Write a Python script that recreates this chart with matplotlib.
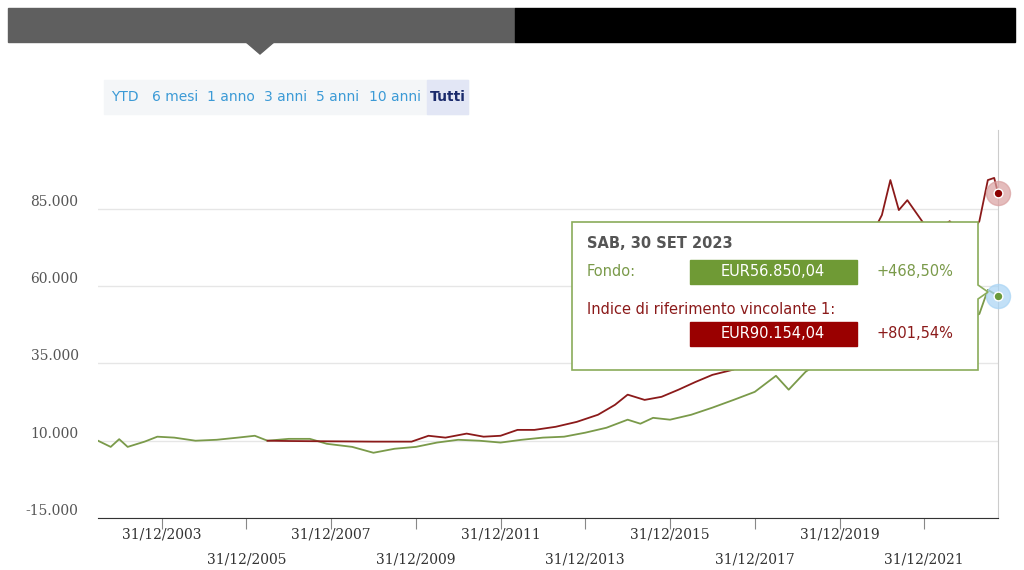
import matplotlib.pyplot as plt
from matplotlib.patches import Rectangle, Polygon

# decimal years and values
fondo_t = [2002.5, 2002.8, 2003.0, 2003.2, 2003.6, 2003.9, 2004.3, 2004.8, 2005.3, 2005.8, 2006.2, 2006.5,
           2007.0, 2007.5, 2007.9, 2008.5, 2009.0, 2009.5, 2010.0, 2010.5, 2011.0, 2011.5, 2012.0, 2012.5,
           2013.0, 2013.5, 2014.0, 2014.5, 2015.0, 2015.3, 2015.6, 2016.0, 2016.5, 2017.0, 2017.5, 2018.0,
           2018.5, 2018.8, 2019.2, 2019.6, 2020.0, 2020.3, 2020.7, 2021.0, 2021.5, 2021.9, 2022.3, 2022.7,
           2023.0, 2023.3, 2023.5, 2023.74]
fondo_v = [10000, 8000, 10500, 8000, 9700, 11300, 11000, 10000, 10300, 11000, 11600, 10000,
           10600, 10600, 9000, 8000, 6100, 7400, 8000, 9400, 10300, 10000, 9400, 10300,
           11000, 11300, 12600, 14200, 16800, 15500, 17400, 16800, 18400, 20700, 23200, 25800,
           31000, 26500, 32300, 36000, 41000, 39400, 45800, 50700, 55500, 60400, 54000, 50700,
           49100, 51000, 58800, 56850]
indice_t = [2006.5, 2007.0, 2008.0, 2009.0, 2009.9, 2010.3, 2010.7, 2011.2, 2011.6, 2012.0, 2012.4, 2012.8,
            2013.3, 2013.8, 2014.3, 2014.7, 2015.0, 2015.4, 2015.8, 2016.2, 2016.6, 2017.0, 2017.5, 2018.0,
            2018.5, 2019.0, 2019.5, 2020.0, 2020.3, 2020.7, 2021.0, 2021.2, 2021.4, 2021.6, 2022.0, 2022.3,
            2022.6, 2023.0, 2023.3, 2023.5, 2023.65, 2023.74]
indice_v = [10000, 9900, 9800, 9700, 9700, 11600, 11000, 12300, 11300, 11600, 13500, 13500,
            14500, 16100, 18400, 21600, 24900, 23200, 24200, 26500, 29000, 31300, 33000, 37800,
            42600, 45800, 55500, 62000, 55500, 75000, 83000, 94300, 84600, 87800, 80000, 78000,
            81000, 75000, 81000, 94300, 95000, 90154]
yticks = [-15000, 10000, 35000, 60000, 85000]
ylabels = ['-15.000', '10.000', '35.000', '60.000', '85.000']
xticks = [2004, 2006, 2008, 2010, 2012, 2014, 2016, 2018, 2020, 2022]
xlabels = ['31/12/%d' % (y - 1) for y in xticks]
buttons = ['YTD', '6 mesi', '1 anno', '3 anni', '5 anni', '10 anni', 'Tutti']

GREEN = '#7a9a4a'
RED = '#8b1a1a'

fig = plt.figure(figsize=(10.24, 5.7), dpi=100)
W, H = 1024, 570
def px(x, y):
    return x / W, 1 - y / H

# header bars
fig.patches.append(Rectangle(px(8, 42), 507 / W, 34 / H, transform=fig.transFigure, color='#5f5f5f'))
fig.patches.append(Rectangle(px(515, 42), 500 / W, 34 / H, transform=fig.transFigure, color='black'))
fig.patches.append(Polygon([px(246, 42), px(274, 42), px(260, 54)], transform=fig.transFigure, color='#5f5f5f'))

# range buttons
fig.patches.append(Rectangle(px(104, 114), 364 / W, 34 / H, transform=fig.transFigure, color='#f4f6f8'))
fig.patches.append(Rectangle(px(427, 114), 41 / W, 34 / H, transform=fig.transFigure, color='#e2e6f5'))
bx = [125, 175, 231, 286, 338, 395, 448]
for b, x in zip(buttons, bx):
    fig.text(*px(x, 97), b, ha='center', va='center', fontsize=10,
             color='#1a2a6c' if b == 'Tutti' else '#3b9ad6', fontweight='bold' if b == 'Tutti' else 'normal')

ax = fig.add_axes([98 / W, 52 / H, 900 / W, 388 / H])
ax.set_xlim(2002.5, 2023.74)
ax.set_ylim(-15000, 110500)
for s in ['top', 'left']:
    ax.spines[s].set_visible(False)
ax.spines['right'].set_color('#cccccc')
ax.spines['bottom'].set_color('#333333')
for y in yticks:
    ax.axhline(y, color='#e6e6e6', lw=1, zorder=0)
ax.set_yticks([])
for y, l in zip(yticks, ylabels):
    ax.annotate(l, (0, y), xycoords=('axes fraction', 'data'), xytext=(-14, 5), textcoords='offset points',
                ha='right', va='center', fontsize=10, color='#555555', family='DejaVu Serif')
ax.set_xticks(xticks)
ax.set_xticklabels([])
ax.tick_params(axis='x', length=8, color='#888888')
for i, (x, l) in enumerate(zip(xticks, xlabels)):
    ax.annotate(l, (x, 0), xycoords=('data', 'axes fraction'), xytext=(0, -12 if i % 2 == 0 else -30),
                textcoords='offset points', ha='center', va='center', fontsize=10, color='#333333',
                family='DejaVu Serif')

ax.plot(fondo_t, fondo_v, color=GREEN, lw=1.3, zorder=3)
ax.plot(indice_t, indice_v, color=RED, lw=1.3, zorder=3)
ax.scatter([fondo_t[-1]], [fondo_v[-1]], s=300, color='#a8d4f5', alpha=0.7, zorder=4, clip_on=False)
ax.scatter([fondo_t[-1]], [fondo_v[-1]], s=40, color='#6a9a3a', edgecolor='white', zorder=5, clip_on=False)
ax.scatter([indice_t[-1]], [indice_v[-1]], s=300, color='#d9a0a0', alpha=0.7, zorder=4, clip_on=False)
ax.scatter([indice_t[-1]], [indice_v[-1]], s=40, color='#8b0000', edgecolor='white', zorder=5, clip_on=False)

# tooltip
fig.patches.append(Polygon([px(572, 222), px(978, 222), px(978, 285), px(988, 292), px(978, 299),
                            px(978, 370), px(572, 370)], closed=True, transform=fig.transFigure,
                           facecolor='white', edgecolor='#8aac5a', lw=1.2, zorder=10))
fig.text(*px(587, 244), 'SAB, 30 SET 2023', fontsize=10.5, color='#555555', fontweight='bold',
         va='center', zorder=11)
fig.text(*px(587, 272), 'Fondo:', fontsize=10.5, color=GREEN, va='center', zorder=11)
fig.patches.append(Rectangle(px(690, 284), 167 / W, 24 / H, transform=fig.transFigure, color='#6f9a35', zorder=11))
fig.text(*px(773, 272), 'EUR56.850,04', fontsize=10.5, color='white', ha='center', va='center', zorder=12)
fig.text(*px(877, 272), '+468,50%', fontsize=10.5, color=GREEN, va='center', zorder=11)
fig.text(*px(587, 309), 'Indice di riferimento vincolante 1:', fontsize=10.5, color=RED, va='center', zorder=11)
fig.patches.append(Rectangle(px(690, 346), 167 / W, 24 / H, transform=fig.transFigure, color='#9a0000', zorder=11))
fig.text(*px(773, 334), 'EUR90.154,04', fontsize=10.5, color='white', ha='center', va='center', zorder=12)
fig.text(*px(877, 334), '+801,54%', fontsize=10.5, color=RED, va='center', zorder=11)

fig.savefig('out.png', dpi=100)
